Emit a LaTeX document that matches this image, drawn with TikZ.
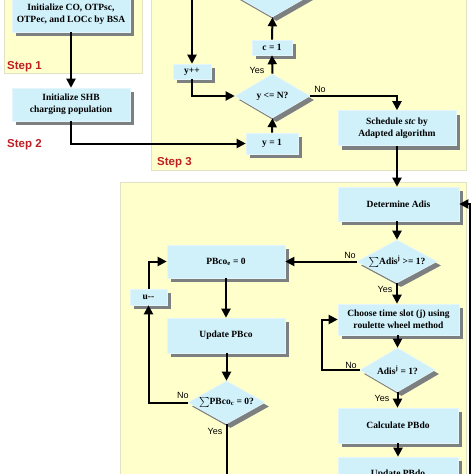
\documentclass[tikz,border=0pt]{standalone}
\usepackage{fontspec}
\setmainfont{Liberation Serif}
\newfontfamily\lsans{Liberation Sans}
\usetikzlibrary{shapes.geometric,shadows,arrows.meta}
\definecolor{boxfill}{RGB}{208,240,250}
\definecolor{boxline}{RGB}{228,246,252}
\definecolor{panelfill}{RGB}{255,255,204}
\definecolor{panelline}{RGB}{225,225,195}
\definecolor{shadowc}{RGB}{125,128,128}
\definecolor{stepred}{RGB}{190,30,35}
\newcommand{\smsum}{\ensuremath{\sum}}
\begin{document}
\begin{tikzpicture}[x=1pt,y=-1pt,
  box/.style={draw=boxline, line width=0.6pt, fill=boxfill, inner sep=0pt, align=center,
    font=\bfseries\fontsize{9.5}{12}\selectfont,
    drop shadow={shadow xshift=4pt, shadow yshift=-4pt, fill=shadowc, opacity=1}},
  dia/.style={shape=diamond, draw=boxline, line width=0.6pt, fill=boxfill, inner sep=0pt,
    drop shadow={shadow xshift=4pt, shadow yshift=-4pt, fill=shadowc, opacity=1}},
  dtext/.style={font=\bfseries\fontsize{9.5}{12}\selectfont, inner sep=0pt},
  arr/.style={line width=2pt, -{Triangle[length=9pt,width=9pt]}},
  ln/.style={line width=2pt},
  lab/.style={font=\lsans\fontsize{9}{10}\selectfont, inner sep=0pt},
  steplab/.style={font=\lsans\bfseries\fontsize{11.5}{12}\selectfont, text=stepred, inner sep=0pt, anchor=west}]
\useasboundingbox (0,0) rectangle (474,474);
\fill[white] (0,0) rectangle (474,474);
% panels
\draw[draw=panelline, fill=panelfill, line width=0.8pt] (4,-5) rectangle (142,73);
\draw[draw=panelline, fill=panelfill, line width=0.8pt] (151,-5) rectangle (466,170);
\draw[draw=panelline, fill=panelfill, line width=0.8pt] (120,182) rectangle (466,485);
% step labels
\node[steplab] (s1) at (7,67) {Step 1};
\node[steplab] (s2) at (7,145) {Step 2};
\node[steplab] (s3) at (157,163) {Step 3};
% nodes
\node[box, minimum width=118pt, minimum height=36pt] (init) at (71,14) {Initialize CO, OTPsc,\\OTPec, and LOCc by BSA};
\node[box, minimum width=118pt, minimum height=33pt] (shb) at (71,104.5) {Initialize SHB\\charging population};
\node[dia, minimum width=75pt, minimum height=43pt] (top) at (272.5,-4.5) {};
\node[box, minimum width=40pt, minimum height=15pt] (c1) at (272,47.5) {c = 1};
\node[box, minimum width=38pt, minimum height=15pt] (ypp) at (192,71.5) {y++};
\node[dia, minimum width=75pt, minimum height=44pt, label={[dtext]center:y <= N?}] (yn) at (272.5,96) {};
\node[box, minimum width=52pt, minimum height=21pt] (y1) at (272,143.5) {y = 1};
\node[box, minimum width=118pt, minimum height=35pt] (sch) at (397,128) {Schedule \textit{stc} by\\Adapted algorithm};
\node[box, minimum width=121pt, minimum height=34pt] (det) at (398.5,204) {Determine Adis};
\node[dia, minimum width=80pt, minimum height=43pt, label={[dtext]center:\smsum Adis\textsuperscript{j} >= 1?}] (da1) at (397,261.5) {};
\node[box, minimum width=118pt, minimum height=33pt] (pbco) at (226,261.5) {PBco\textsubscript{e} = 0};
\node[box, minimum width=121pt, minimum height=31pt] (cho) at (398.5,319.5) {Choose time slot (j) using\\roulette wheel method};
\node[dia, minimum width=75pt, minimum height=44pt, label={[dtext]center:Adis\textsuperscript{j} = 1?}] (da2) at (397.5,370) {};
\node[box, minimum width=120pt, minimum height=35pt] (calc) at (398,425.5) {Calculate PBdo};
\node[box, minimum width=120pt, minimum height=35pt] (upd) at (398,474.5) {Update PBdo};
\node[box, minimum width=37pt, minimum height=16pt] (um) at (148.5,297) {u-{}-};
\node[box, minimum width=118pt, minimum height=35pt] (upc) at (226,335.5) {Update PBco};
\node[dia, minimum width=77pt, minimum height=43pt, label={[dtext]center:\smsum PBco\textsubscript{c} = 0?}] (dpb) at (226.5,402.5) {};
% free ends
\coordinate (lt) at (192,-10);
\coordinate (rb) at (470,485);
\coordinate (bb) at (226.5,485);
% connectors
\draw[arr] (init.south -| shb.north) -- (shb.north);
\draw[arr] (shb.south) |- (y1.west);
\draw[arr] (lt) -- (ypp.north);
\draw[arr] (ypp.south) |- (yn.west);
\draw[arr] (y1.north) -- (yn.south);
\draw[arr] (yn.north) -- (c1.south);
\draw[arr] (c1.north) -- (top.south);
\draw[arr] (yn.east) -| (sch.north);
\draw[arr] (sch.south) -- (sch.south |- det.north);
\draw[arr] (det.south -| da1.north) -- (da1.north);
\draw[arr] (da1.west) -- (pbco.east);
\draw[arr] (da1.south) -- (da1.south |- cho.north);
\draw[arr] (cho.south -| da2.north) -- (da2.north);
\draw[arr] (da2.west) -- ++(-38,0) |- (cho.west);
\draw[arr] (da2.south) -- (da2.south |- calc.north);
\draw[arr] (calc.south) -- (upd.north);
\draw[arr] (rb) |- (det.east);
\draw[arr] (pbco.south) -- (upc.north);
\draw[arr] (upc.south -| dpb.north) -- (dpb.north);
\draw[arr] (dpb.west) -| (um.south);
\draw[arr] (um.north) |- (pbco.west);
\draw[ln] (dpb.south) -- (bb);
% labels
\node[lab] (l1) at (320,89) {No};
\node[lab] (l2) at (257,70) {Yes};
\node[lab] (l3) at (350,255) {No};
\node[lab] (l4) at (385,289) {Yes};
\node[lab] (l5) at (351,365) {No};
\node[lab] (l6) at (382,398) {Yes};
\node[lab] (l7) at (183,395) {No};
\node[lab] (l8) at (215,431) {Yes};
\end{tikzpicture}
\end{document}
